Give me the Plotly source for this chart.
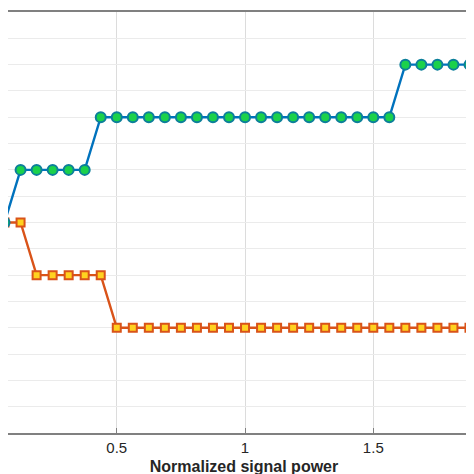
import plotly.graph_objects as go

x_power = [0, 0.0625, 0.125, 0.1875, 0.25, 0.3125, 0.375, 0.4375,
           0.5, 0.5625, 0.625, 0.6875, 0.75, 0.8125, 0.875, 0.9375,
           1.0, 1.0625, 1.125, 1.1875, 1.25, 1.3125, 1.375, 1.4375,
           1.5, 1.5625, 1.625, 1.6875, 1.75, 1.8125, 1.875, 1.9375]
blue_vals = [8, 8, 10, 10, 10, 10, 10, 12,
             12, 12, 12, 12, 12, 12, 12, 12,
             12, 12, 12, 12, 12, 12, 12, 12,
             12, 12, 14, 14, 14, 14, 14, 14]
orange_vals = [8, 8, 8, 6, 6, 6, 6, 6,
               4, 4, 4, 4, 4, 4, 4, 4,
               4, 4, 4, 4, 4, 4, 4, 4,
               4, 4, 4, 4, 4, 4, 4, 4]
x_ticks = [0.5, 1, 1.5]
x_tick_text = ["0.5", "1", "1.5"]

fig = go.Figure()
fig.add_trace(go.Scatter(
    x=x_power, y=orange_vals, mode="lines+markers",
    line=dict(color="#D95319", width=2.4),
    marker=dict(symbol="square", size=8, color="#FFD21F",
                line=dict(color="#D95319", width=2)),
))
fig.add_trace(go.Scatter(
    x=x_power, y=blue_vals, mode="lines+markers",
    line=dict(color="#0072BD", width=2.4),
    marker=dict(symbol="circle", size=10, color="#1BD14B",
                line=dict(color="#0C7F9A", width=2)),
))

fig.update_layout(
    width=474, height=474,
    paper_bgcolor="white", plot_bgcolor="white",
    showlegend=False,
    margin=dict(l=0, r=0, t=4, b=49),
    font=dict(family="Liberation Sans, Arial", color="#262626"),
)
fig.update_xaxes(
    range=[0.076, 1.916], tickvals=x_ticks, ticktext=x_tick_text,
    tickfont=dict(size=15, family="Liberation Sans, Arial", color="#262626"),
    showgrid=True, gridcolor="#DCDCDC", gridwidth=1,
    showline=True, linecolor="#808080", linewidth=1.5, mirror=True,
    ticks="inside", ticklen=5, tickcolor="#808080", zeroline=False,
    title=dict(text="<b>Normalized signal power</b>",
               font=dict(size=16, color="#262626"), standoff=6),
)
fig.update_yaxes(
    range=[0, 16], dtick=1, showticklabels=False,
    showgrid=True, gridcolor="#EBEBEB", gridwidth=1,
    showline=True, linecolor="#808080", linewidth=1.5, mirror=True,
    zeroline=False,
)

fig.write_html("out.html")
